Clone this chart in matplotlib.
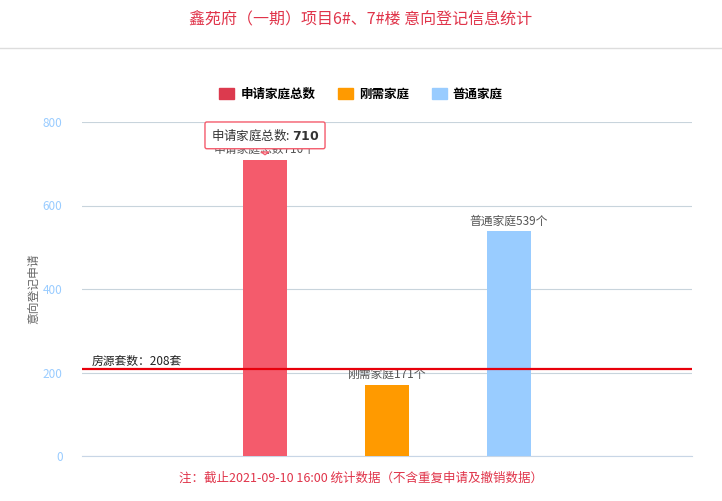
import matplotlib
matplotlib.use("Agg")
import matplotlib.pyplot as plt
from matplotlib.patches import Rectangle
from matplotlib.lines import Line2D

plt.rcParams['font.family'] = ['Noto Sans CJK SC', 'DejaVu Sans']

series = ["申请家庭总数", "刚需家庭", "普通家庭"]
values = [710, 171, 539]
colors = ["#f45b6c", "#ff9a00", "#99ccff"]
legend_colors = ["#dc3a4e", "#ff9a00", "#99ccff"]
positions = [1.5, 2.5, 3.5]
supply = 208
yticks = [0, 200, 400, 600, 800]

W, H = 722, 501
fig = plt.figure(figsize=(W/100, H/100), dpi=100)
ax = fig.add_axes([82/W, 1-456/H, 610/W, (456-122)/H])

for p, v, c, n in zip(positions, values, colors, series):
    ax.bar(p, v, width=0.36, color=c, zorder=3)
    ax.text(p, v + 8, f"{n}{v}个", ha="center", va="bottom", fontsize=8.5, color="#555555", zorder=4)

ax.axhline(supply, color="#e8000b", lw=1.6, zorder=4)
ax.text(0.08, supply + 4, f"房源套数：{supply}套", fontsize=8.5, color="#222222", va="bottom", zorder=5)

ax.set_xlim(0, 5)
ax.set_ylim(0, 800)
ax.set_yticks(yticks)
ax.set_xticks([])
ax.grid(axis="y", color="#c8d4dc", lw=0.8, zorder=0)
for s in ["top", "right", "left"]:
    ax.spines[s].set_visible(False)
ax.spines["bottom"].set_color("#c8d6e6")
ax.tick_params(axis="y", length=0, colors="#99ccff", labelsize=8.5, pad=14)
ax.set_ylabel("意向登记申请", fontsize=8.5, color="#666666", labelpad=2)

# tooltip
ax.annotate(f"{series[0]}: $\\bf{{{values[0]}}}$", xy=(positions[0], values[0]+5),
            xytext=(positions[0], 768), ha="center", va="center", fontsize=9, color="#333333",
            bbox=dict(boxstyle="round,pad=0.45,rounding_size=0.15", fc="white", ec="#f45b6c", lw=1),
            arrowprops=dict(arrowstyle="wedge,tail_width=0.6", fc="white", ec="#f45b6c", lw=1), zorder=6)

fig.text(0.5, 1-20/H, "鑫苑府（一期）项目6#、7#楼 意向登记信息统计", ha="center", va="center",
         fontsize=11.5, color="#e0344a")
fig.add_artist(Line2D([0, 1], [1-48/H, 1-48/H], color="#dddddd", lw=1))

handles = [Rectangle((0, 0), 1, 1, color=c) for c in legend_colors]
fig.legend(handles, series, loc="center", bbox_to_anchor=(0.5, 1-94/H), ncol=3, frameon=False,
           handlelength=1.2, handleheight=1.0, columnspacing=1.8, handletextpad=0.5,
           prop={'weight': 'bold', 'size': 9})

fig.text(0.5, 1-478/H, "注：截止2021-09-10 16:00 统计数据（不含重复申请及撤销数据）", ha="center",
         va="center", fontsize=9, color="#e0344a")

fig.savefig("out.png", dpi=100, facecolor="white")
